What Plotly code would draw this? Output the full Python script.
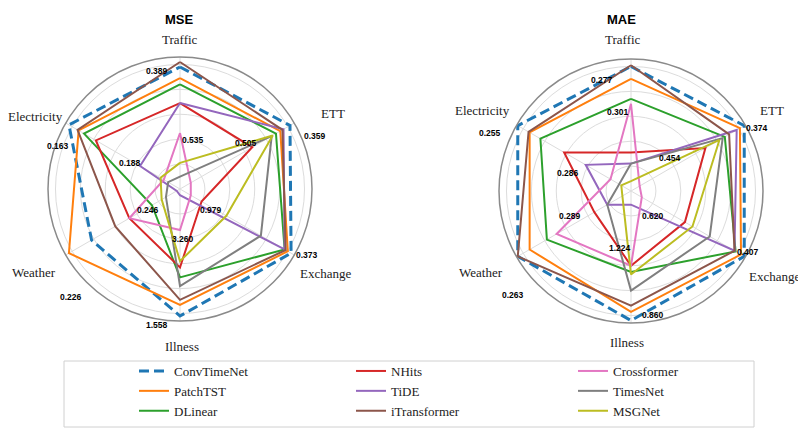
import plotly.graph_objects as go

# the page body keeps its 8px margin, so the figure starts 8px in and
# every pixel position below (window pixels) is moved back by it
PAGE_W, PAGE_H, PAD = 806, 429, 8
W, H = PAGE_W - PAD, PAGE_H - PAD

# axes of the radar, clockwise from the top
datasets = ["Traffic", "ETT", "Exchange", "Illness", "Weather", "Electricity"]
models = ["ConvTimeNet", "PatchTST", "DLinear", "NHits", "TiDE",
          "iTransformer", "Crossformer", "TimesNet", "MSGNet"]
colors = ["#1f77b4", "#ff7f0e", "#2ca02c", "#d62728", "#9467bd",
          "#8c564b", "#e377c2", "#7f7f7f", "#bcbd22"]
# three legend columns of three entries, like the reference
legend_col = ["legend", "legend", "legend", "legend2", "legend2", "legend2",
              "legend3", "legend3", "legend3"]

# normalised scores (outer = best)
mse_convtimenet = [0.98, 1.02, 1.03, 1.02, 0.82, 1.03]
mse_patchtst = [0.89, 0.93, 1.00, 0.93, 1.03, 0.94]
mse_dlinear = [0.84, 0.89, 0.97, 0.71, 0.26, 0.89]
mse_nhits = [0.69, 0.67, 0.20, 0.63, 0.47, 0.78]
mse_tide = [0.69, 0.96, 0.97, 0.05, 0.03, 0.37]
mse_itransformer = [1.02, 0.95, 0.98, 0.89, 0.60, 0.95]
mse_crossformer = [0.45, 0.10, 0.10, 0.33, 0.47, 0.15]
mse_timesnet = [0.10, 0.85, 0.75, 0.78, 0.13, 0.11]
mse_msgnet = [0.21, 0.86, 0.43, 0.58, 0.17, 0.18]

mae_convtimenet = [1.00, 1.05, 1.05, 1.04, 1.05, 1.05]
mae_patchtst = [0.90, 1.01, 1.02, 0.97, 0.94, 0.94]
mae_dlinear = [0.74, 0.87, 0.97, 0.65, 0.78, 0.84]
mae_nhits = [0.31, 0.69, 0.50, 0.60, 0.34, 0.62]
mae_tide = [0.22, 0.98, 0.96, 0.11, 0.22, 0.42]
mae_itransformer = [1.01, 0.91, 0.96, 0.92, 1.05, 0.95]
mae_crossformer = [0.70, 0.08, 0.10, 0.60, 0.69, 0.19]
mae_timesnet = [0.22, 0.85, 0.73, 0.80, 0.22, 0.11]
mae_msgnet = [0.08, 0.82, 0.57, 0.67, 0.08, 0.09]

mse_values = [mse_convtimenet, mse_patchtst, mse_dlinear, mse_nhits, mse_tide,
              mse_itransformer, mse_crossformer, mse_timesnet, mse_msgnet]
mae_values = [mae_convtimenet, mae_patchtst, mae_dlinear, mae_nhits, mae_tide,
              mae_itransformer, mae_crossformer, mae_timesnet, mae_msgnet]

# best / worst raw value shown on each axis
mse_best = ["0.389", "0.359", "0.373", "1.558", "0.226", "0.163"]
mse_worst = ["0.535", "0.505", "0.979", "3.260", "0.246", "0.188"]
mae_best = ["0.277", "0.374", "0.407", "0.860", "0.263", "0.255"]
mae_worst = ["0.301", "0.454", "0.620", "1.224", "0.289", "0.286"]

# label positions in window pixels (x, y)
mse_best_pos = [(157, 71), (315, 136), (307, 255), (157, 325), (71, 297), (58, 146)]
mse_worst_pos = [(193, 140), (246, 143), (211, 210), (183, 239), (148, 210), (130, 163)]
mae_best_pos = [(602, 80), (757, 128), (748, 252), (653, 315), (513, 295), (490, 133)]
mae_worst_pos = [(618, 112), (670, 158), (653, 216), (620, 248), (570, 216), (568, 173)]
mse_axis_pos = [(180, 39), (333, 114), (325, 273), (182, 346), (34, 272), (35, 117)]
mae_axis_pos = [(623, 39), (772, 110), (774, 276), (627, 342), (481, 272), (482, 110)]


def fx(px):
    return (px - PAD) / W


def fy(py):
    return 1 - (py - PAD) / H


fig = go.Figure()

for k, name in enumerate(models):
    dash = "10px,5px" if name == "ConvTimeNet" else "solid"
    width = 3 if name == "ConvTimeNet" else 2
    for sub, vals in (("polar", mse_values[k]), ("polar2", mae_values[k])):
        fig.add_trace(go.Scatterpolar(
            r=vals + vals[:1],
            theta=datasets + datasets[:1],
            mode="lines",
            name=name,
            line=dict(color=colors[k], width=width, dash=dash),
            subplot=sub,
            showlegend=(sub == "polar"),
            legend=legend_col[k],
        ))


def polar_layout(cx, cy, rad):
    return dict(
        domain=dict(x=[fx(cx - rad), fx(cx + rad)],
                    y=[fy(cy + rad), fy(cy - rad)]),
        bgcolor="white",
        radialaxis=dict(range=[0, 1.06], tickvals=[0.2, 0.4, 0.6, 0.8, 1.0],
                        showticklabels=False, ticks="", showline=False,
                        gridcolor="#dcdcdc", gridwidth=1),
        angularaxis=dict(rotation=90, direction="clockwise",
                         categoryarray=datasets, type="category",
                         showticklabels=False, ticks="",
                         gridcolor="#dcdcdc", linecolor="#8a8a8a", linewidth=1.5),
    )


def legend_layout(px):
    return dict(x=fx(px), y=fy(356), xanchor="left", yanchor="top",
                orientation="v", tracegroupgap=0,
                font=dict(family="Liberation Serif", size=13, color="#222222"),
                bgcolor="rgba(0,0,0,0)")


annotations = []


def px_note(text, pos, font):
    annotations.append(dict(text=text, x=fx(pos[0]), y=fy(pos[1]),
                            xref="paper", yref="paper", showarrow=False,
                            xanchor="center", yanchor="middle", font=font))


serif = dict(family="Liberation Serif", size=13, color="#222222")
val_font = dict(family="Liberation Sans", size=8.5, color="black")

for labels, pos in ((mse_best, mse_best_pos), (mse_worst, mse_worst_pos),
                    (mae_best, mae_best_pos), (mae_worst, mae_worst_pos)):
    for t, p in zip(labels, pos):
        px_note("<b>" + t + "</b>", p, val_font)

for pos in (mse_axis_pos, mae_axis_pos):
    for t, p in zip(datasets, pos):
        px_note(t, p, serif)

title_font = dict(family="Liberation Sans", size=13, color="black")
px_note("<b>MSE</b>", (179, 20), title_font)
px_note("<b>MAE</b>", (621, 20), title_font)

fig.update_layout(
    width=W, height=H,
    margin=dict(l=0, r=0, t=0, b=0),
    paper_bgcolor="white",
    polar=polar_layout(180, 189, 132),
    polar2=polar_layout(631, 191, 132),
    annotations=annotations,
    shapes=[dict(type="rect", xref="paper", yref="paper",
                 x0=fx(64), x1=fx(754), y0=fy(427), y1=fy(361),
                 line=dict(color="#d0d0d0", width=1), fillcolor="rgba(0,0,0,0)")],
    legend=legend_layout(134),
    legend2=legend_layout(351),
    legend3=legend_layout(573),
)

fig.write_html("out.html")
